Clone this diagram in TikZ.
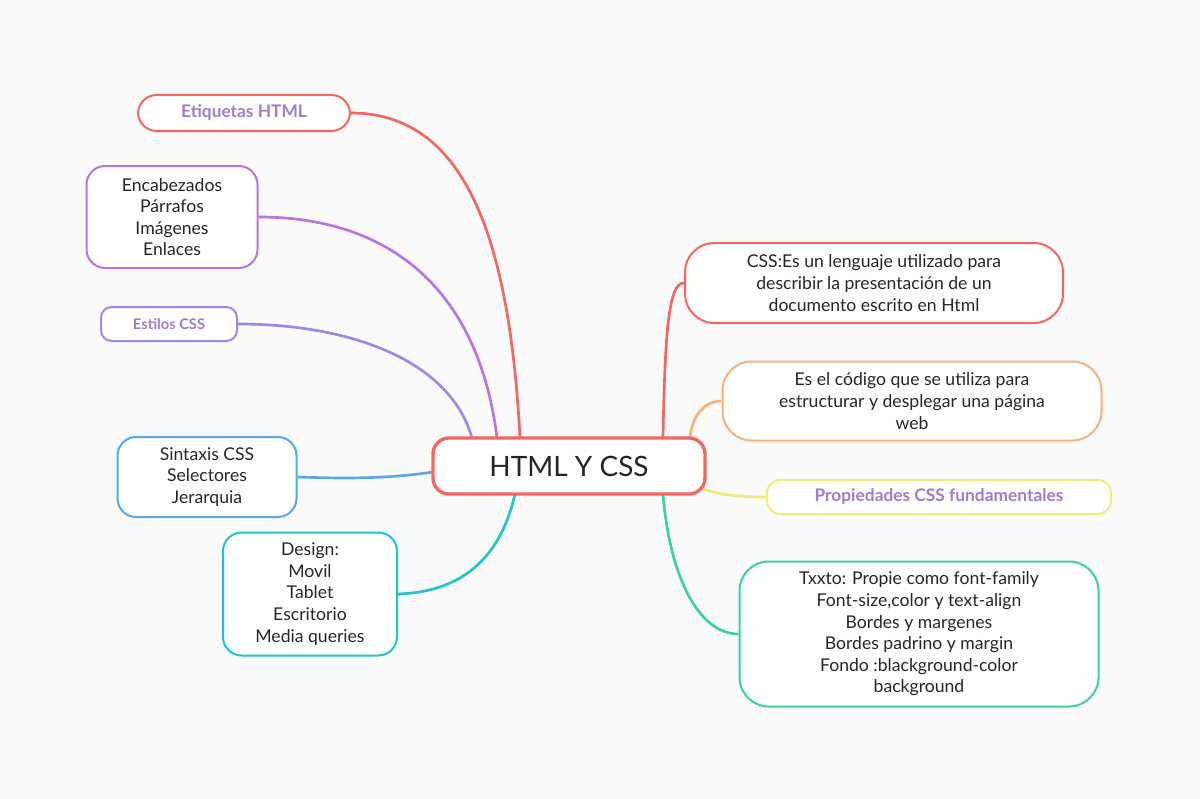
\documentclass[tikz,border=0pt]{standalone}
\usepackage{fontspec}
\setmainfont{Lato}
\begin{document}
\begin{tikzpicture}[x=0.75pt,y=-0.75pt,
 box/.style={draw=#1,line width=1.5pt,rounded corners=14pt,fill=white,align=center,font=\fontsize{13.2}{16.2}\selectfont,text=black!85,inner sep=0pt},
 lbl/.style={text=violet!60!white,font=\fontsize{13}{15}\selectfont\bfseries},
 con/.style={draw=#1,line width=2pt}]
\fill[white!98!black] (0,0) rectangle (1200,799);
\useasboundingbox (0,0) rectangle (1200,799);
\definecolor{cred}{HTML}{F2675F}\definecolor{cpur}{HTML}{B874E0}\definecolor{cvio}{HTML}{9A8AF0}
\definecolor{cblu}{HTML}{55A8EE}\definecolor{ctea}{HTML}{1EC4CE}\definecolor{cora}{HTML}{F7B27A}
\definecolor{cyel}{HTML}{F2EB7A}\definecolor{cgre}{HTML}{3CD1A0}\definecolor{ctxt}{HTML}{A47BC8}
\node[box=cred,minimum width=212pt*0.75,minimum height=36pt*0.75,lbl,text=ctxt] (et) at (244,113) {Etiquetas HTML};
\node[box=cpur,minimum width=171*0.75pt,minimum height=102*0.75pt] (enc) at (172,217) {Encabezados\\Párrafos\\Imágenes\\Enlaces};
\node[box=cvio,minimum width=136*0.75pt,minimum height=34*0.75pt,lbl,text=ctxt,rounded corners=8pt,font=\fontsize{11}{13}\selectfont\bfseries] (est) at (169,324) {Estilos CSS};
\node[box=cblu,minimum width=179*0.75pt,minimum height=80*0.75pt] (sin) at (207,477) {Sintaxis CSS\\Selectores\\Jerarquia};
\node[box=ctea,minimum width=174*0.75pt,minimum height=123*0.75pt] (des) at (310,594) {Design:\\Movil\\Tablet\\Escritorio\\Media queries};
\node[box=cred,minimum width=378*0.75pt,minimum height=80*0.75pt,rounded corners=22pt] (css) at (874,283) {CSS:Es un lenguaje utilizado para\\describir la presentación de un\\documento escrito en Html};
\node[box=cora,minimum width=379*0.75pt,minimum height=79*0.75pt,rounded corners=22pt] (cod) at (912,401) {Es el código que se utiliza para\\estructurar y desplegar una página\\web};
\node[box=cyel,minimum width=344*0.75pt,minimum height=34*0.75pt,lbl,text=ctxt,rounded corners=10pt] (pro) at (939,497) {Propiedades CSS fundamentales};
\node[box=cgre,minimum width=359*0.75pt,minimum height=145*0.75pt,rounded corners=22pt] (txt) at (919,634) {Txxto: Propie como font-family\\Font-size,color y text-align\\Bordes y margenes\\Bordes padrino y margin\\Fondo :blackground-color\\background};
\coordinate (c1) at (520,438);\coordinate (c2) at (497,438);\coordinate (c3) at (472,438);
\coordinate (c4) at (433,472);\coordinate (c5) at (515,494);\coordinate (c6) at (663,438);
\coordinate (c7) at (690,438);\coordinate (c8) at (700,488);\coordinate (c9) at (663,494);
\draw[con=cred] (c1) .. controls (510,250) and (470,113) .. (et.east);
\draw[con=cpur] (c2) .. controls (480,300) and (400,217) .. (enc.east);
\draw[con=cvio] (c3) .. controls (450,360) and (350,324) .. (est.east);
\draw[con=cblu] (c4) .. controls (380,480) and (330,478) .. (sin.east);
\draw[con=ctea] (c5) .. controls (500,560) and (460,592) .. (des.east);
\draw[con=cred] (c6) .. controls (665,320) and (670,283) .. (css.west);
\draw[con=cora] (c7) .. controls (692,415) and (705,401) .. (cod.west);
\draw[con=cyel] (c8) .. controls (720,495) and (740,497) .. (pro.west);
\draw[con=cgre] (c9) .. controls (670,580) and (700,634) .. (txt.west);
\node[draw=cred,line width=2.5pt,rounded corners=12pt,fill=white,minimum width=272*0.75pt,minimum height=56*0.75pt,font=\fontsize{21}{24}\selectfont,text=black!85] (m) at (569,466) {HTML Y CSS};
\end{tikzpicture}
\end{document}
